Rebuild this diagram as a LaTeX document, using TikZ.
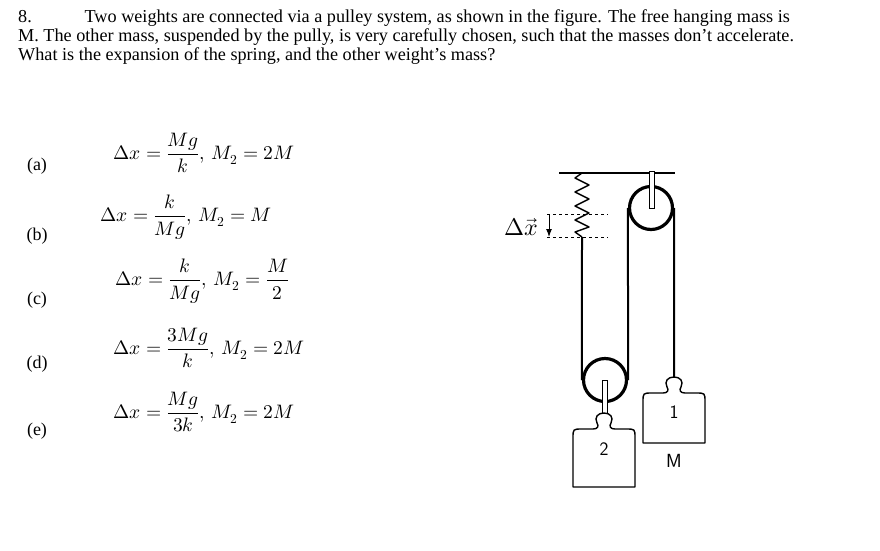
\documentclass[tikz,border=0pt]{standalone}
\usepackage{fontspec}
\setmainfont{Liberation Serif}
\usepackage{amsmath}
\usepackage{unicode-math}
\setmathfont{Latin Modern Math}
\usetikzlibrary{arrows.meta}
\begin{document}
\begin{tikzpicture}[x=1pt,y=-1pt,
  txt/.style={anchor=west,inner sep=0,font=\fontsize{18.2}{22}\selectfont},
  eq/.style={inner sep=0,font=\fontsize{19.5}{23}\selectfont},
  lbl/.style={inner sep=0,font=\fontsize{18}{21}\selectfont},
  pulley/.style={circle,draw,line width=3.2pt,minimum size=43pt,inner sep=0},
  rope/.style={line width=2pt},
  num/.style={font=\sffamily\fontsize{19}{21}\selectfont},
  pics/weight/.style={code={
    \draw[line width=1.4pt,line join=round] (-31,#1) -- (-31,9) .. controls (-31,0) .. (-22,0) -- (-11,0)
      .. controls (-6,0) and (-5,-3) .. (-7,-6) .. controls (-10,-12) and (-6,-16) .. (0,-16)
      .. controls (6,-16) and (10,-12) .. (7,-6) .. controls (5,-3) and (6,0) .. (11,0)
      -- (22,0) .. controls (31,0) .. (31,9) -- (31,#1) -- cycle;}}]
\useasboundingbox (0,0) rectangle (880,550);
\node[txt] (q1) at (18,18) {8.\hspace{2.9em}Two weights are connected via a pulley system, as shown in the figure. The free hanging mass is};
\node[txt] (q2) at (18,37) {M. The other mass, suspended by the pully, is very carefully chosen, such that the masses don’t accelerate.};
\node[txt] (q3) at (18,56) {What is the expansion of the spring, and the other weight’s mass?};
\node[lbl] (la) at (37,166) {(a)};
\node[lbl] (lb) at (37,236) {(b)};
\node[lbl] (lc) at (37,300) {(c)};
\node[lbl] (ld) at (37,364) {(d)};
\node[lbl] (le) at (37,431) {(e)};
\node[eq,anchor=west] (ea) at (113,153) {$\Delta x=\dfrac{Mg}{k},\,M_2=2M$};
\node[eq,anchor=west] (eb) at (100,217) {$\Delta x=\dfrac{k}{Mg},\,M_2=M$};
\node[eq,anchor=west] (ec) at (115,281) {$\Delta x=\dfrac{k}{Mg},\,M_2=\dfrac{M}{2}$};
\node[eq,anchor=west] (ed) at (113,348) {$\Delta x=\dfrac{3Mg}{k},\,M_2=2M$};
\node[eq,anchor=west] (ee) at (113,412) {$\Delta x=\dfrac{Mg}{3k},\,M_2=2M$};
% ceiling
\draw[line width=2.2pt] (559,173) -- (675,173);
% spring
\draw[line width=1.4pt,line join=round] (582,173) -- (575,178) -- (589,185) -- (575,192) -- (589,199) -- (575,206) -- (589,213) -- (575,220) -- (589,227) -- (575,232) -- (582,237);
\coordinate (sp) at (582,237);
\draw[dashed,line width=0.9pt] (547,214) -- (608,214) (547,237) -- (608,237);
\draw[-{Latex[length=8pt,width=6pt]},line width=1pt] (549,214) -- (549,237);
\node[inner sep=0,font=\fontsize{24}{26}\selectfont] (dx) at (521,227) {$\Delta\vec{x}$};
% pulleys
\node[pulley] (tp) at (651,208) {};
\node[pulley] (bp) at (605,380) {};
% ropes
\draw[rope] (sp) -- (bp.west);
\draw[rope] (bp.east) -- (tp.west);
\coordinate (k1) at (674,377);
\draw[rope] (tp.east) -- (k1);
% rods
\draw[fill=white,line width=0.9pt] (649,171) rectangle (654,208);
\draw[fill=white,line width=0.9pt] (602,380) rectangle (607,413);
% weights
\pic at (674,393) {weight=50};
\pic at (604,429) {weight=58};
\node[num] (n1) at (674,412) {1};
\node[num] (n2) at (604,449) {2};
\node[num] (nM) at (674,461) {M};
\end{tikzpicture}
\end{document}
